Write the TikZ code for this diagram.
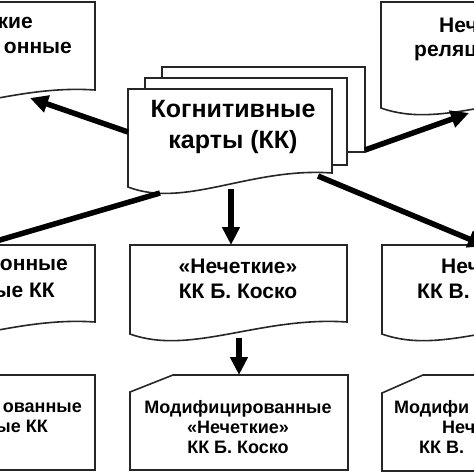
\documentclass[tikz,border=0pt]{standalone}
\usepackage{fontspec}
\setmainfont{Liberation Sans}
\usetikzlibrary{arrows.meta}
\newcommand\docbox[5]{% x1, top, x2, bottom-left y, bottom-right y
  \path[boxline] (#1,#4) -- (#1,#2) -- (#3,#2) -- (#3,#5)
    .. controls ({#3-0.4*(#3-#1)},{#5-6}) and ({#1+0.28*(#3-#1)},{#4+22}) .. (#1,#4) -- cycle;}
\begin{document}
\begin{tikzpicture}[x=1pt,y=-1pt,
  boxline/.style={draw=black!85,line width=1.6pt,fill=white,line join=miter},
  conn/.style={line width=5.5pt,-{Triangle[length=18pt,width=17pt]}},
  plainconn/.style={line width=5.5pt},
  bigtxt/.style={font=\bfseries\fontsize{25}{31}\selectfont,inner sep=0pt},
  midtxt/.style={font=\bfseries\fontsize{21}{25}\selectfont,inner sep=0pt},
  lowtxt/.style={font=\bfseries\fontsize{18}{20}\selectfont,inner sep=0pt}]
\clip (0,0) rectangle (474,474);
\fill[white] (0,0) rectangle (474,474);

% top row
\docbox{-122}{2}{95}{102}{90}
\docbox{381}{2}{598}{108}{96}
% central stack
\path[boxline] (162,67) rectangle (365,152);
\path[boxline] (145,78) rectangle (347,165);
\docbox{128}{89}{332}{187}{173}
% middle row
\docbox{-122}{245}{95}{334}{322}
\docbox{130}{245}{347}{334}{322}
\docbox{382}{245}{599}{334}{322}
% bottom row
\path[boxline] (-122,375) rectangle (95,470);
\path[boxline] (130,392) -- (173,375) -- (348,375) -- (348,470) -- (130,470) -- cycle;
\path[boxline] (382,393) -- (423,375) -- (600,375) -- (600,471) -- (382,471) -- cycle;

% texts
\node[midtxt,anchor=base east] (tl1) at (33,28.5) {кие};
\node[midtxt,anchor=base east] (tl2) at (72,53.5) {онные};
\node[midtxt,anchor=base west] (tr1) at (439,32) {Неч};
\node[midtxt,anchor=base west] (tr2) at (414,56) {реляц};
\node[bigtxt,anchor=base] (kk1) at (233,117) {Когнитивные};
\node[bigtxt,anchor=base] (kk2) at (233,148) {карты (КК)};
\node[midtxt,anchor=base east] (ml1) at (68,270.5) {онные};
\node[midtxt,anchor=base east] (ml2) at (55,297.5) {ые КК};
\node[midtxt,anchor=base] (mm1) at (238,273) {«Нечеткие»};
\node[midtxt,anchor=base] (mm2) at (238,298) {КК Б. Коско};
\node[midtxt,anchor=base west] (mr1) at (441,273.5) {Неч};
\node[midtxt,anchor=base west] (mr2) at (417,298.5) {КК В.};
\node[lowtxt,anchor=base east] (bl1) at (82,412.5) {ованные};
\node[lowtxt,anchor=base east] (bl2) at (48,432.5) {ые КК};
\node[lowtxt,anchor=base] (bm1) at (238,413.5) {Модифицированные};
\node[lowtxt,anchor=base] (bm2) at (238,433.5) {«Нечеткие»};
\node[lowtxt,anchor=base] (bm3) at (238,453.5) {КК Б. Коско};
\node[lowtxt,anchor=base west] (br1) at (394,413.5) {Модифи};
\node[lowtxt,anchor=base west] (br2) at (442,433.5) {Неч};
\node[lowtxt,anchor=base west] (br3) at (419,453.5) {КК В.};

% connector end points
\coordinate (kkL) at (128,132);
\coordinate (tlB) at (30,98);
\coordinate (kkR) at (365,150);
\coordinate (trB) at (469,113);
\coordinate (kkB) at (231,189);
\coordinate (mmT) at (231,245);
\coordinate (kkBL) at (160,193);
\coordinate (mlT) at (-24,247);
\coordinate (kkBR) at (318,176);
\coordinate (mrT) at (486,246);
\coordinate (mmB) at (239,338);
\coordinate (bmT) at (239,375);

\draw[conn] (kkL) -- (tlB);
\draw[conn] (kkR) -- (trB);
\draw[conn] (kkB) -- (mmT);
\draw[conn] (kkBL) -- (mlT);
\draw[conn] (kkBR) -- (mrT);
\draw[conn] (mmB) -- (bmT);
\end{tikzpicture}
\end{document}
